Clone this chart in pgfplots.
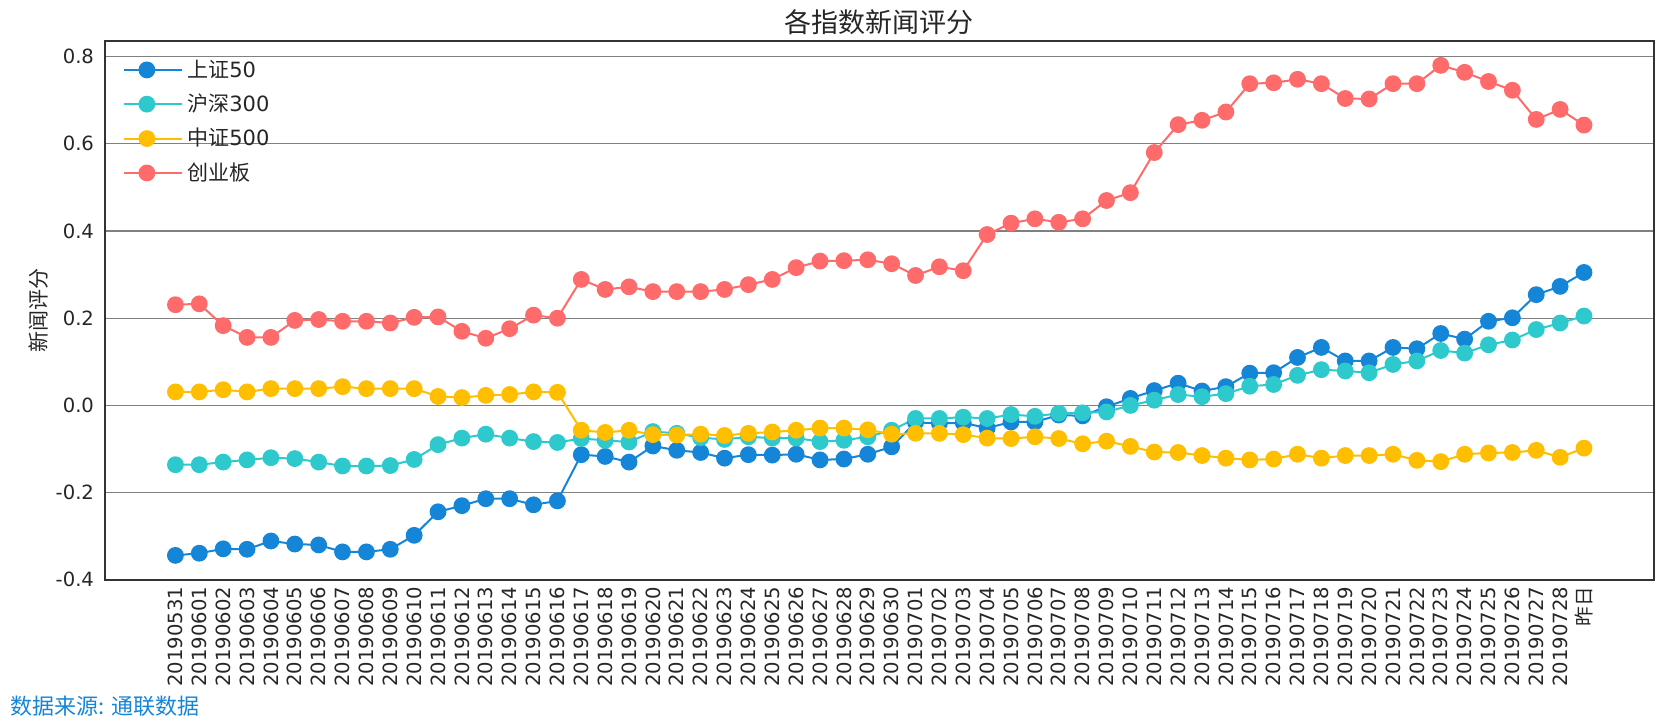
\documentclass[border=0pt]{standalone}
\usepackage{fontspec}
\setmainfont{DejaVu Sans}
\newfontfamily\cjk{Noto Sans CJK SC}
\usepackage{pgfplots}
\usepackage{pgfplotstable}
\pgfplotsset{compat=1.18}
\definecolor{cBlue}{RGB}{21,133,216}
\definecolor{cCyan}{RGB}{46,201,204}
\definecolor{cYel}{RGB}{255,190,0}
\definecolor{cRed}{RGB}{255,107,107}
\definecolor{txt}{RGB}{38,38,38}
\definecolor{gridc}{RGB}{128,128,128}
\definecolor{frame}{RGB}{51,51,51}
\pgfplotstableread{
idx b c y r
0 -0.344 -0.136 0.031 0.231
1 -0.339 -0.136 0.031 0.233
2 -0.329 -0.130 0.036 0.183
3 -0.330 -0.125 0.031 0.156
4 -0.311 -0.120 0.0385 0.156
5 -0.318 -0.122 0.0385 0.195
6 -0.320 -0.130 0.0385 0.197
7 -0.336 -0.139 0.043 0.193
8 -0.336 -0.139 0.0385 0.193
9 -0.330 -0.138 0.0385 0.189
10 -0.298 -0.124 0.0385 0.202
11 -0.244 -0.090 0.0205 0.203
12 -0.230 -0.075 0.018 0.170
13 -0.214 -0.066 0.023 0.154
14 -0.214 -0.075 0.025 0.176
15 -0.228 -0.083 0.031 0.207
16 -0.219 -0.085 0.030 0.200
17 -0.113 -0.076 -0.057 0.289
18 -0.117 -0.080 -0.062 0.266
19 -0.130 -0.084 -0.057 0.272
20 -0.093 -0.060 -0.067 0.261
21 -0.103 -0.064 -0.068 0.261
22 -0.108 -0.074 -0.066 0.261
23 -0.121 -0.078 -0.069 0.266
24 -0.113 -0.072 -0.064 0.277
25 -0.114 -0.075 -0.061 0.289
26 -0.112 -0.075 -0.057 0.316
27 -0.125 -0.083 -0.052 0.331
28 -0.123 -0.080 -0.052 0.332
29 -0.112 -0.072 -0.056 0.334
30 -0.095 -0.057 -0.066 0.325
31 -0.039 -0.030 -0.064 0.298
32 -0.041 -0.030 -0.064 0.318
33 -0.040 -0.027 -0.067 0.309
34 -0.052 -0.030 -0.075 0.392
35 -0.038 -0.021 -0.076 0.418
36 -0.038 -0.025 -0.072 0.428
37 -0.022 -0.018 -0.076 0.420
38 -0.024 -0.017 -0.088 0.428
39 -0.003 -0.015 -0.082 0.470
40 0.016 0.000 -0.094 0.488
41 0.034 0.012 -0.107 0.580
42 0.051 0.025 -0.108 0.644
43 0.033 0.020 -0.115 0.654
44 0.043 0.027 -0.121 0.673
45 0.074 0.044 -0.125 0.738
46 0.075 0.048 -0.123 0.740
47 0.110 0.069 -0.112 0.748
48 0.133 0.082 -0.121 0.738
49 0.102 0.079 -0.115 0.704
50 0.102 0.075 -0.115 0.703
51 0.133 0.094 -0.112 0.738
52 0.130 0.102 -0.126 0.738
53 0.165 0.126 -0.129 0.780
54 0.152 0.120 -0.112 0.764
55 0.193 0.139 -0.109 0.743
56 0.201 0.150 -0.108 0.723
57 0.254 0.174 -0.103 0.656
58 0.273 0.189 -0.119 0.679
59 0.305 0.205 -0.098 0.643
}\datatable
\begin{document}
\begin{tikzpicture}
\useasboundingbox (0,0) rectangle (832.5bp,363.5bp);
\begin{axis}[
  at={(52.5bp,73.6bp)}, anchor=south west,
  scale only axis, width=774.7bp, height=269.2bp,
  xmin=-2.95, xmax=61.95, ymin=-0.4, ymax=0.835,
  axis line style={frame, line width=1bp},
  major tick length=0pt,
  ymajorgrids, grid style={gridc, line width=0.6bp},
  ytick={-0.4,-0.2,0,0.2,0.4,0.6,0.8},
  yticklabels={-0.4,-0.2,0.0,0.2,0.4,0.6,0.8},
  yticklabel style={font=\fontsize{9.8bp}{11bp}\selectfont, text=txt, xshift=-2bp},
  xtick={0,...,59},
  xticklabels={20190531,20190601,20190602,20190603,20190604,20190605,20190606,20190607,20190608,20190609,20190610,20190611,20190612,20190613,20190614,20190615,20190616,20190617,20190618,20190619,20190620,20190621,20190622,20190623,20190624,20190625,20190626,20190627,20190628,20190629,20190630,20190701,20190702,20190703,20190704,20190705,20190706,20190707,20190708,20190709,20190710,20190711,20190712,20190713,20190714,20190715,20190716,20190717,20190718,20190719,20190720,20190721,20190722,20190723,20190724,20190725,20190726,20190727,20190728,{\cjk 昨日}},
  xticklabel style={font=\fontsize{9.8bp}{11bp}\selectfont, text=txt, rotate=90, anchor=east},
  ylabel={\cjk 新闻评分},
  ylabel style={at={(axis description cs:-0.043,0.5)}, anchor=center, font=\fontsize{10.5bp}{12bp}\selectfont, text=txt},
  legend style={at={(0,1)}, anchor=north west, draw=none, fill=none,
    font=\fontsize{10.5bp}{12bp}\selectfont, text=txt,
    xshift=6bp, yshift=-5bp, row sep=2.9bp},
  legend cell align=left,
  legend image code/.code={\draw[mark repeat=2,mark phase=2] plot coordinates {(0bp,0bp) (11.25bp,0bp) (22.5bp,0bp)};\path (0bp,0bp) -- (29bp,0bp);},
  every axis plot/.append style={line width=1bp, mark=*, mark size=3.7bp},
]
\addplot[cBlue, mark options={fill=cBlue, draw=cBlue}] table[x=idx,y=b]{\datatable};
\addlegendentry{{\cjk 上证}50}
\addplot[cCyan, mark options={fill=cCyan, draw=cCyan}] table[x=idx,y=c]{\datatable};
\addlegendentry{{\cjk 沪深}300}
\addplot[cYel, mark options={fill=cYel, draw=cYel}] table[x=idx,y=y]{\datatable};
\addlegendentry{{\cjk 中证}500}
\addplot[cRed, mark options={fill=cRed, draw=cRed}] table[x=idx,y=r]{\datatable};
\addlegendentry{{\cjk 创业板}}
\end{axis}
\node[text=txt, font=\cjk\fontsize{13.5bp}{15bp}\selectfont] at (439.5bp,352.5bp) {各指数新闻评分};
\node[anchor=west, text=cBlue, font=\cjk\fontsize{11bp}{13bp}\selectfont, inner sep=0pt] at (5.3bp,10.5bp) {数据来源: 通联数据};
\end{tikzpicture}
\end{document}
